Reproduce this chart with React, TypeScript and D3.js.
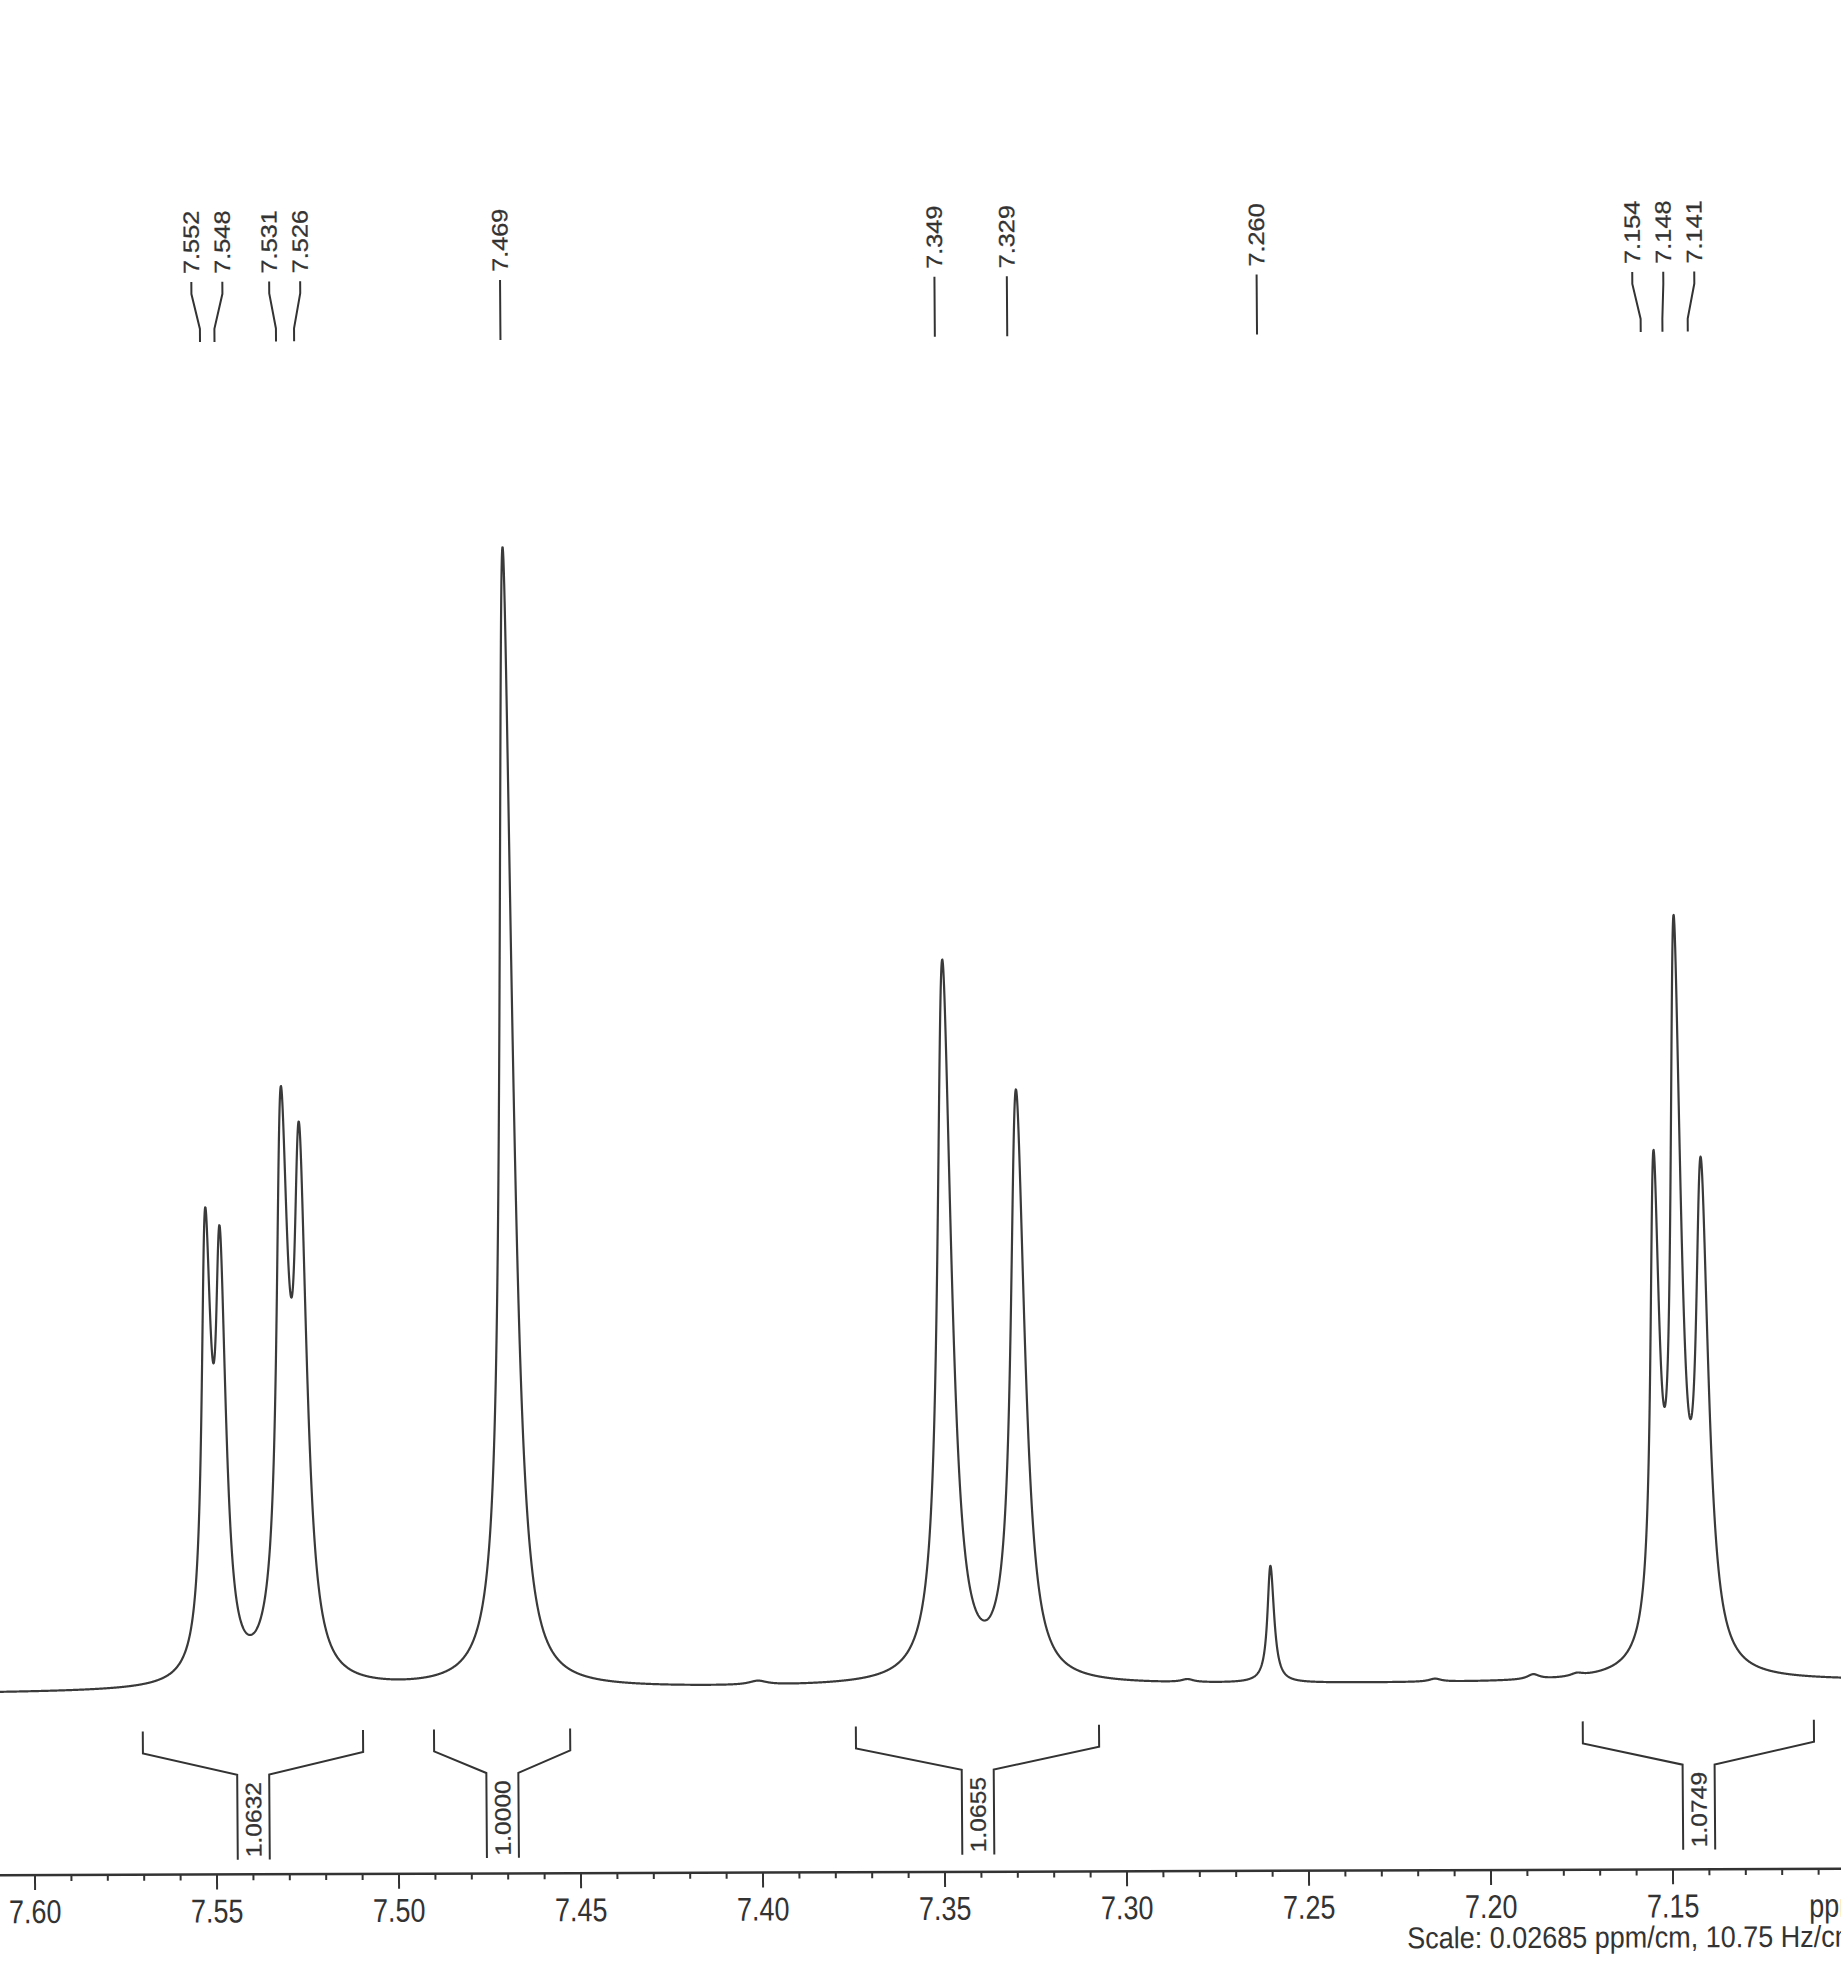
import React, { useMemo } from 'react';
import * as d3 from 'd3';

const W = 1841;
const H = 1966;

// Resolved lines: chemical shift (ppm), height, half width at half height (ppm)
const peakPpm = [7.552, 7.548, 7.531, 7.526, 7.469, 7.349, 7.329, 7.26, 7.154, 7.148, 7.141];
const peakHeight = [421, 396, 532, 493, 1141, 719, 587, 117, 468, 703, 479];
const peakHalfWidth = [0.0016, 0.0016, 0.00195, 0.00195, 0.0021, 0.0023, 0.0023, 0.0011, 0.0015, 0.0017, 0.002];

// small baseline bumps (noise)
const bumpPpm = [7.401, 7.283, 7.215, 7.188, 7.176];
const bumpHeight = [4, 3, 3, 5, 3];
const bumpHalfWidth = [0.003, 0.002, 0.002, 0.002, 0.002];

// integrals
const integralFrom = [7.5701, 7.4901, 7.3742, 7.1745];
const integralTo = [7.5096, 7.4527, 7.3074, 7.111];
const integralLabels = ['1.0632', '1.0000', '1.0655', '1.0749'];

// axis
const majorTicks = [7.6, 7.55, 7.5, 7.45, 7.4, 7.35, 7.3, 7.25, 7.2, 7.15];
const majorTickLabels = ['7.60', '7.55', '7.50', '7.45', '7.40', '7.35', '7.30', '7.25', '7.20', '7.15'];
const axisUnit = 'ppm';
const scaleNote = 'Scale: 0.02685 ppm/cm, 10.75 Hz/cm';

const FONT = "'Liberation Sans', Arial, Helvetica, sans-serif";
const INK = '#333';

function spreadLabels(xs: number[], gap: number): number[] {
  let groups = xs.map((x, i) => ({ start: i, end: i, center: x }));
  let changed = true;
  while (changed) {
    changed = false;
    for (let k = 0; k < groups.length - 1; k++) {
      const a = groups[k];
      const b = groups[k + 1];
      const aRight = a.center + ((a.end - a.start) * gap) / 2;
      const bLeft = b.center - ((b.end - b.start) * gap) / 2;
      if (bLeft - aRight < gap) {
        const start = a.start;
        const end = b.end;
        const center = d3.mean(xs.slice(start, end + 1)) as number;
        groups.splice(k, 2, { start, end, center });
        changed = true;
        break;
      }
    }
  }
  const out: number[] = [];
  groups.forEach((g) => {
    const n = g.end - g.start + 1;
    for (let i = 0; i < n; i++) out.push(g.center + (i - (n - 1) / 2) * gap);
  });
  return out;
}

export default function App() {
  const x = d3.scaleLinear().domain([7.6, 7.15]).range([35, 1673]);
  const y = d3.scaleLinear().domain([0, 1200]).range([1687, 487]);
  // peak-label layer registers slightly differently from the spectrum in the print
  const xl = d3.scaleLinear().domain([7.6, 7.15]).range([37, 1666]);

  const spectrum = useMemo(() => {
    const pts: [number, number][] = [];
    const lo = x.invert(-10);
    const hi = x.invert(W + 10);
    const n = 6000;
    for (let i = 0; i <= n; i++) {
      const p = lo + ((hi - lo) * i) / n;
      let v = 0;
      for (let k = 0; k < peakPpm.length; k++) {
        const d = (p - peakPpm[k]) / peakHalfWidth[k];
        v += peakHeight[k] / (1 + d * d);
      }
      for (let k = 0; k < bumpPpm.length; k++) {
        const d = (p - bumpPpm[k]) / bumpHalfWidth[k];
        v += bumpHeight[k] / (1 + d * d);
      }
      pts.push([p, v]);
    }
    return pts;
  }, []);

  const line = d3
    .line<[number, number]>()
    .x((d) => x(d[0]))
    .y((d) => y(d[1]));

  const anchorXs = peakPpm.map((p) => xl(p));
  const labelXs = spreadLabels(anchorXs, 31);

  const axisY = 1872;
  const minorTicks = d3.range(7.11, 7.6101, 0.01).filter(
    (t) => !majorTicks.some((m) => Math.abs(m - t) < 1e-6)
  );

  const intTop = 1726;
  const intBend = 1748;
  const intMid = 1770;
  const intBottom = 1855;
  const intHalfGap = 16;

  return (
    <svg
      width={W}
      height={H}
      viewBox={`0 0 ${W} ${H}`}
      style={{ position: 'absolute', left: 0, top: 0, display: 'block', background: '#fff' }}
    >
      <rect x={0} y={0} width={W} height={H} fill="#fff" />
      <g transform="rotate(-0.4 920 1880)">
        {/* peak labels */}
        {peakPpm.map((p, i) => {
          const lx = labelXs[i];
          const px = anchorXs[i];
          return (
            <g key={'pl' + i}>
              <text
                transform={`translate(${lx},269) scale(1,1.15) rotate(-90)`}
                dy="0.35em"
                fontFamily={FONT}
                fontSize={22}
                fill={INK}
                stroke={INK}
                strokeWidth={0.3}
                textAnchor="start"
              >
                {p.toFixed(3)}
              </text>
              <path
                d={`M${lx},277 L${lx},289 L${px},324 L${px},337`}
                fill="none"
                stroke={INK}
                strokeWidth={2}
              />
            </g>
          );
        })}

        {/* spectrum */}
        <path d={line(spectrum) || ''} fill="none" stroke="#3a3a3a" strokeWidth={2.2} strokeLinejoin="round" />

        {/* integrals */}
        {integralFrom.map((f, i) => {
          const x1 = x(f);
          const x2 = x(integralTo[i]);
          const xc = (x1 + x2) / 2;
          return (
            <g key={'int' + i}>
              <path
                d={`M${x1},${intTop} L${x1},${intBend} L${xc - intHalfGap},${intMid} L${xc - intHalfGap},${intBottom}`}
                fill="none"
                stroke={INK}
                strokeWidth={2}
              />
              <path
                d={`M${x2},${intTop} L${x2},${intBend} L${xc + intHalfGap},${intMid} L${xc + intHalfGap},${intBottom}`}
                fill="none"
                stroke={INK}
                strokeWidth={2}
              />
              <text
                transform={`translate(${xc},1815) scale(1,1.12) rotate(-90)`}
                dy="0.35em"
                fontFamily={FONT}
                fontSize={22}
                fill={INK}
                stroke={INK}
                strokeWidth={0.3}
                textAnchor="middle"
              >
                {integralLabels[i]}
              </text>
            </g>
          );
        })}
      </g>

      <g transform="rotate(-0.2 920 1872)">
        {/* axis */}
        <line x1={-5} x2={W + 5} y1={axisY} y2={axisY} stroke={INK} strokeWidth={2.5} />
        {minorTicks.map((t, i) => (
          <line key={'mt' + i} x1={x(t)} x2={x(t)} y1={axisY} y2={axisY + 6} stroke={INK} strokeWidth={2} />
        ))}
        {majorTicks.map((t, i) => (
          <g key={'Mt' + i}>
            <line x1={x(t)} x2={x(t)} y1={axisY} y2={axisY + 15} stroke={INK} strokeWidth={2} />
            <text
              transform={`translate(${x(t)},1920) scale(1,1.22)`}
              fontFamily={FONT}
              fontSize={27}
              fill={INK}
              textAnchor="middle"
            >
              {majorTickLabels[i]}
            </text>
          </g>
        ))}
        <text
          transform={`translate(1809,1920) scale(1,1.22)`}
          fontFamily={FONT}
          fontSize={27}
          fill={INK}
          textAnchor="start"
        >
          {axisUnit}
        </text>
        <text
          transform={`translate(1407,1950) scale(1,1.12)`}
          fontFamily={FONT}
          fontSize={27}
          fill={INK}
          textAnchor="start"
        >
          {scaleNote}
        </text>
      </g>
    </svg>
  );
}
